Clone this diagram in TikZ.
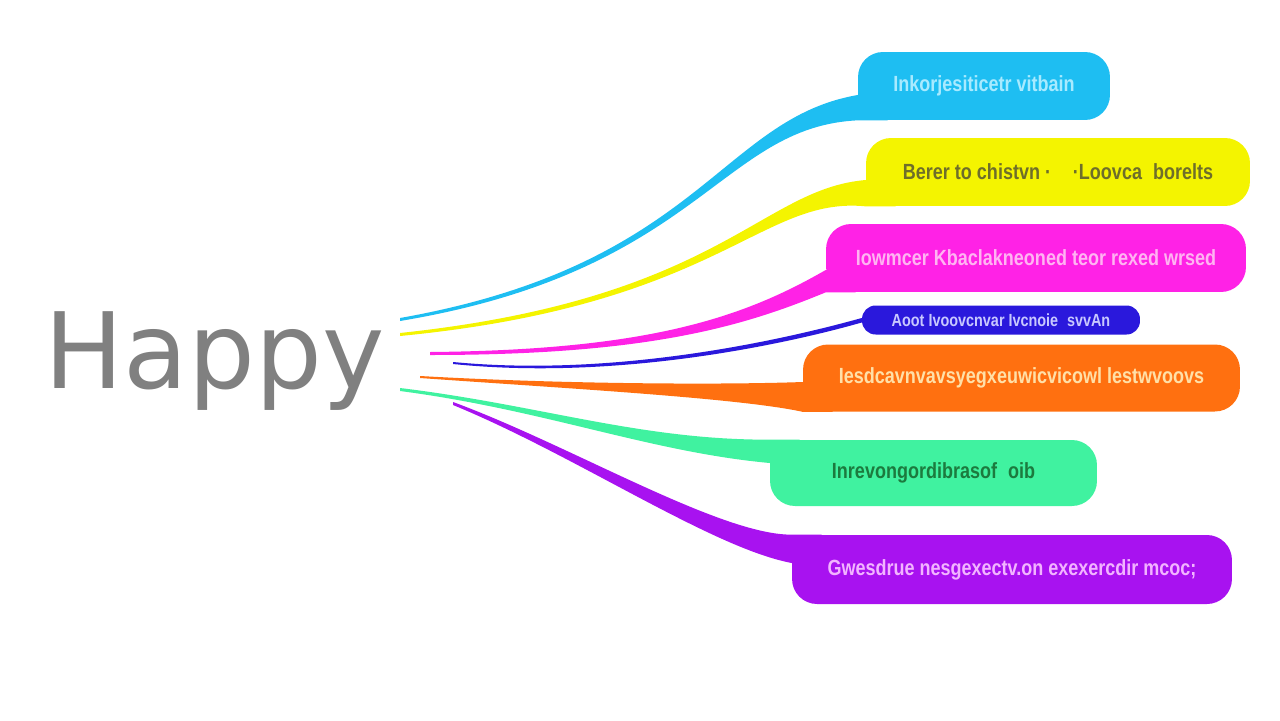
\documentclass[tikz,border=0pt]{standalone}
\usepackage{fontspec}
\usetikzlibrary{backgrounds}
\newfontfamily\happyfont{DejaVu Sans}
\newfontfamily\boxfont{Liberation Sans Bold}[FakeStretch=0.82]
\definecolor{happygray}{HTML}{808080}
\definecolor{cyanbox}{HTML}{1EBEF2}
\definecolor{cyantext}{HTML}{A8EAFF}
\definecolor{yellowbox}{HTML}{F4F400}
\definecolor{yellowtext}{HTML}{6E6E2A}
\definecolor{magentabox}{HTML}{FF22E6}
\definecolor{magentatext}{HTML}{FFB4F2}
\definecolor{bluebox}{HTML}{2A18DC}
\definecolor{bluetext}{HTML}{C8C8FF}
\definecolor{orangebox}{HTML}{FF7010}
\definecolor{orangetext}{HTML}{FFE0A8}
\definecolor{greenbox}{HTML}{40F2A0}
\definecolor{greentext}{HTML}{1C7A3E}
\definecolor{purplebox}{HTML}{A812F0}
\definecolor{purpletext}{HTML}{F2B4FF}
\begin{document}
\begin{tikzpicture}[x=0.02cm, y=-0.02cm,
  bubble/.style = {rounded corners=0.5cm, inner sep=0pt, minimum height=1.36cm,
    font=\boxfont\fontsize{12.5}{14}\selectfont}]
	\useasboundingbox (0,0) rectangle (1280,720);
	\node[anchor=base west, inner sep=0pt, text=happygray,
	  font=\happyfont\fontsize{60}{60}\selectfont] (happy) at (44,388) {Happy};
	% bubbles
	\node[bubble, fill=cyanbox, text=cyantext, minimum width=5.04cm] (c1) at (984,86) {Inkorjesiticetr vitbain};
	\node[bubble, fill=yellowbox, text=yellowtext, minimum width=7.68cm] (y2) at (1058,172) {Berer to chistvn ·\quad·Loovca\enspace borelts};
	\node[bubble, fill=magentabox, text=magentatext, minimum width=8.4cm] (m3) at (1036,258) {Iowmcer Kbaclakneoned teor rexed wrsed};
	\node[bubble, fill=bluebox, text=bluetext, minimum width=5.56cm, minimum height=0.58cm,
	  rounded corners=0.27cm, font=\boxfont\fontsize{10}{11}\selectfont] (b4) at (1001,320) {Aoot Ivoovcnvar Ivcnoie\enspace svvAn};
	\node[bubble, fill=orangebox, text=orangetext, minimum width=8.74cm, minimum height=1.34cm] (o5) at (1021.5,378) {Iesdcavnvavsyegxeuwicvicowl lestwvoovs};
	\node[bubble, fill=greenbox, text=greentext, minimum width=6.54cm, minimum height=1.32cm] (g6) at (933.5,473) {Inrevongordibrasof\enspace oib};
	\node[bubble, fill=purplebox, text=purpletext, minimum width=8.8cm, minimum height=1.38cm] (p7) at (1012,569.5) {Gwesdrue nesgexectv.on exexercdir mcoc;};
	% where the branches leave the word
	\coordinate (s1) at (400,318);
	\coordinate (s2) at (400,333);
	\coordinate (s3) at (430,352);
	\coordinate (s4) at (453,362);
	\coordinate (s5) at (420,376);
	\coordinate (s6) at (400,388);
	\coordinate (s7) at (453,402);
	% branches, tapering towards the word
	\begin{scope}[on background layer]
	\fill[cyanbox] (s1) .. controls (700,265) and (720,119) .. ([yshift=-0.18cm]c1.west)
	  -- ++(0.6cm,0) |- (c1.south west) .. controls (720,127) and (700,271) .. ([yshift=-0.06cm]s1) -- cycle;
	\fill[yellowbox] (s2) .. controls (720,299) and (760,189) .. ([yshift=-0.16cm]y2.west)
	  -- ++(0.6cm,0) |- (y2.south west) .. controls (760,196) and (720,305) .. ([yshift=-0.06cm]s2) -- cycle;
	\fill[magentabox] (s3) .. controls (650,350) and (744,317) .. ([yshift=-0.24cm]m3.west)
	  -- ++(0.6cm,0) |- (m3.south west) .. controls (744,326) and (650,355) .. ([yshift=-0.06cm]s3) -- cycle;
	\fill[bluebox] (s4) .. controls (620,378) and (790,338) .. ([yshift=0.04cm]b4.west)
	  -- ++(0.2cm,0) |- ([yshift=-0.05cm]b4.west) .. controls (790,343) and (620,381) .. ([yshift=-0.04cm]s4) -- cycle;
	\fill[orangebox] (s5) .. controls (560,384) and (720,385) .. ([yshift=-0.08cm]o5.west)
	  -- ++(0.6cm,0) |- (o5.south west) .. controls (740,398) and (560,388) .. ([yshift=-0.04cm]s5) -- cycle;
	\fill[greenbox] (s6) .. controls (540,405) and (640,440) .. (g6.north west)
	  -- ++(0.6cm,0) |- ([yshift=0.2cm]g6.west) .. controls (650,452) and (545,410) .. ([yshift=-0.06cm]s6) -- cycle;
	\fill[purplebox] (s7) .. controls (570,445) and (720,535) .. (p7.north west)
	  -- ++(0.6cm,0) |- ([yshift=0.13cm]p7.west) .. controls (712,548) and (575,455) .. ([yshift=-0.06cm]s7) -- cycle;
	\end{scope}
\end{tikzpicture}
\end{document}
